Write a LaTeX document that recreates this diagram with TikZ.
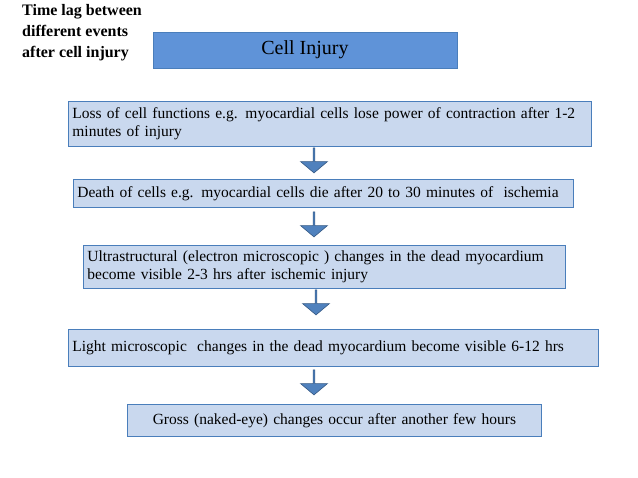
\documentclass[tikz,border=0pt]{standalone}
\usepackage{fontspec}
\setmainfont{Liberation Serif}
\usetikzlibrary{positioning,shapes.arrows}
\definecolor{boxfill}{HTML}{C9D8EE}
\definecolor{boxline}{HTML}{4A7EBB}
\definecolor{topfill}{HTML}{5F93D8}
\definecolor{arrfill}{HTML}{4F81BD}
\tikzset{
  event/.style={draw=boxline,fill=boxfill,line width=0.8pt,anchor=north west,inner sep=4pt,align=left,font=\rmfamily\fontsize{15.5}{18}\selectfont},
  down/.style={single arrow,shape border rotate=270,draw=boxline!70!black,fill=arrfill,minimum width=27pt,single arrow head extend=4pt,single arrow tip angle=100,minimum height=25pt,inner sep=0pt,line width=0.6pt}
}
\begin{document}
\begin{tikzpicture}[x=1pt,y=-1pt]
		\useasboundingbox (0,0) rectangle (638,478);

		%title
		\node[anchor=north west,align=left,font=\rmfamily\fontsize{16}{21}\bfseries\selectfont,inner sep=0pt] (title) at (22,4) {Time lag between\\different events\\after cell injury};

		%boxes
		\node[draw=boxline,fill=topfill,line width=0.8pt,minimum width=304pt,minimum height=36pt,font=\rmfamily\fontsize{20}{22}\selectfont] (injury) at (305,50) {Cell Injury};
		\node[event,text width=515pt,minimum height=45pt] (b1) at (68,101) {Loss of cell functions e.g. myocardial cells lose power of contraction after 1-2\\minutes of injury};
		\node[event,text width=492pt,minimum height=28pt] (b2) at (73,179) {Death of cells e.g. myocardial cells die after 20 to 30 minutes of \ ischemia};
		\node[event,text width=474pt,minimum height=43pt] (b3) at (83,245) {Ultrastructural (electron microscopic ) changes in the dead myocardium\\become visible 2-3 hrs after ischemic injury};
		\node[event,text width=522pt,minimum height=37pt] (b4) at (68,329) {Light microscopic \ changes in the dead myocardium become visible 6-12 hrs};
		\node[event,text width=406pt,minimum height=32pt,align=center] (b5) at (127,404) {Gross (naked-eye) changes occur after another few hours};

		%arrows
		\node[down] (a1) at (314,160) {};
		\node[down] (a2) at (314,224) {};
		\node[down] (a3) at (316,302) {};
		\node[down] (a4) at (314,382) {};
\end{tikzpicture}
\end{document}
